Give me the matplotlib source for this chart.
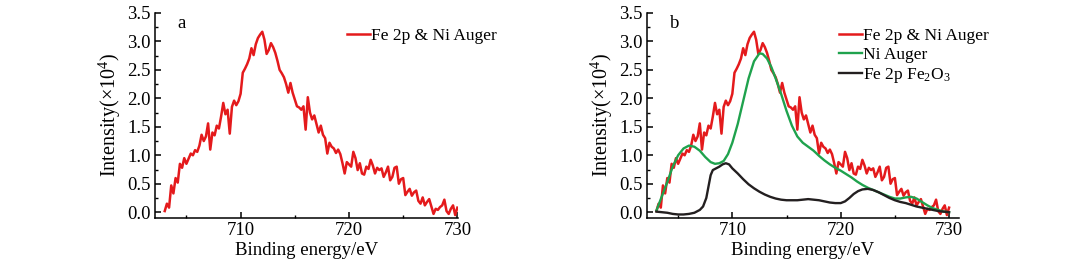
#! /usr/bin/env python3
#=======================================================================
# plot.py
#
# XPS spectra of the Fe 2p / Ni Auger region: (a) raw spectrum,
# (b) raw spectrum with the Ni Auger and Fe 2p (Fe2O3) components.
#=======================================================================
import numpy as np
import matplotlib
matplotlib.use('Agg')
import matplotlib.pyplot as plt

# Measured spectrum (x 10^4 counts), 0.2 eV steps from 703.0 to 730.0 eV.
raw_intensity = [
    0.02, 0.15, 0.08, 0.47, 0.33, 0.60, 0.52, 0.85, 0.78, 0.95,   # 703
    0.85, 0.94, 1.03, 1.00, 1.09, 1.06, 1.17, 1.36, 1.25, 1.33,   # 705
    1.56, 1.10, 1.40, 1.35, 1.52, 1.47, 1.68, 1.92, 1.72, 1.80,   # 707
    1.38, 1.85, 1.96, 1.88, 1.95, 2.08, 2.45, 2.52, 2.60, 2.70,   # 709
    2.88, 2.76, 2.95, 3.06, 3.12, 3.17, 3.03, 2.78, 2.85, 2.97,   # 711
    2.90, 2.80, 2.66, 2.50, 2.44, 2.37, 2.25, 2.10, 2.27, 2.10,   # 713
    1.98, 1.86, 1.84, 1.80, 1.86, 1.45, 2.02, 1.75, 1.63, 1.70,   # 715
    1.55, 1.40, 1.52, 1.36, 1.30, 1.03, 1.22, 1.15, 1.12, 1.04,   # 717
    1.10, 1.02, 0.86, 0.68, 0.88, 0.84, 0.80, 1.06, 0.95, 0.74,   # 719
    0.86, 0.68, 0.66, 0.80, 0.76, 0.92, 0.82, 0.68, 0.78, 0.74,   # 721
    0.77, 0.62, 0.70, 0.80, 0.56, 0.62, 0.78, 0.80, 0.50, 0.58,   # 723
    0.60, 0.30, 0.36, 0.41, 0.29, 0.35, 0.38, 0.20, 0.15, 0.26,   # 725
    0.12, 0.18, 0.23, 0.10, -0.03, 0.06, 0.04, 0.09, 0.12, 0.22,  # 727
    0.02, -0.03, 0.06, 0.12, -0.05, 0.08,                         # 729
]
raw_energy = np.linspace(703.0, 730.0, len(raw_intensity))

# Fitted Ni Auger component.
ni_energy = [703.0, 703.5, 704.0, 704.5, 705.0, 705.5, 706.0, 706.5, 707.0,
             707.5, 708.0, 708.4, 708.8, 709.2, 709.6, 710.0, 710.5, 711.0,
             711.5, 712.0, 712.5, 712.8, 713.2, 713.6, 714.0, 714.5, 715.0,
             715.5, 716.0, 716.5, 717.0, 717.5, 718.0, 718.5, 719.0, 719.5,
             720.0, 720.5, 721.0, 721.5, 722.0, 722.5, 723.0, 723.5, 724.0,
             724.5, 725.0, 725.5, 726.0, 726.5, 727.0, 727.5, 728.0, 728.5,
             729.0, 729.5, 730.0]
ni_intensity = [0.03, 0.28, 0.53, 0.80, 1.00, 1.12, 1.17, 1.15, 1.08,
                0.97, 0.88, 0.85, 0.86, 0.90, 1.02, 1.22, 1.55, 1.95,
                2.35, 2.65, 2.79, 2.78, 2.70, 2.55, 2.35, 2.08, 1.78,
                1.52, 1.33, 1.22, 1.15, 1.08, 0.99, 0.91, 0.84, 0.78,
                0.73, 0.67, 0.61, 0.54, 0.48, 0.43, 0.39, 0.35, 0.31,
                0.27, 0.24, 0.24, 0.26, 0.27, 0.24, 0.18, 0.12, 0.07,
                0.04, 0.01, 0.00]

# Fitted Fe 2p (Fe2O3) component.
fe_energy = [703.0, 703.5, 704.0, 704.5, 705.0, 705.5, 706.0, 706.5, 707.0,
             707.3, 707.6, 707.8, 708.0, 708.2, 708.5, 708.8, 709.1, 709.4,
             709.7, 710.0, 710.5, 711.0, 711.5, 712.0, 712.5, 713.0, 713.5,
             714.0, 714.5, 715.0, 715.5, 716.0, 716.5, 717.0, 717.5, 718.0,
             718.5, 719.0, 719.5, 720.0, 720.4, 720.8, 721.2, 721.6, 722.0,
             722.5, 723.0, 723.5, 724.0, 724.5, 725.0, 725.5, 726.0, 726.5,
             727.0, 727.5, 728.0, 728.5, 729.0, 729.5, 730.0]
fe_intensity = [0.01, 0.00, -0.01, -0.03, -0.04, -0.04, -0.03, -0.01, 0.04,
                0.10, 0.25, 0.45, 0.65, 0.74, 0.77, 0.80, 0.84, 0.86,
                0.84, 0.77, 0.68, 0.58, 0.49, 0.42, 0.36, 0.31, 0.27,
                0.24, 0.22, 0.21, 0.21, 0.21, 0.22, 0.23, 0.22, 0.21,
                0.19, 0.17, 0.16, 0.16, 0.19, 0.25, 0.32, 0.37, 0.40,
                0.41, 0.39, 0.35, 0.30, 0.25, 0.21, 0.18, 0.16, 0.13,
                0.10, 0.08, 0.06, 0.04, 0.02, 0.01, 0.00]

RED = '#e41a1c'
GREEN = '#1fa24d'
BLACK = '#231f20'

plt.rcParams['font.family'] = ['Liberation Serif', 'DejaVu Serif']
plt.rcParams['mathtext.fontset'] = 'custom'
plt.rcParams['mathtext.rm'] = 'Liberation Serif'
plt.rcParams['mathtext.it'] = 'Liberation Serif:italic'

#=======================================================================
def style_axes(ax, xmax, tag):
    """Inward ticks, left/bottom spines only, panel tag."""
    ax.set_xlim(702.1, xmax)
    ax.set_ylim(-0.1, 3.5)
    ax.set_xticks([710, 720, 730])
    ax.set_xticks([705, 715, 725], minor=True)
    ax.set_yticks(np.arange(0, 3.51, 0.5))
    ax.set_yticks(np.arange(0.25, 3.5, 0.5), minor=True)
    ax.yaxis.set_major_formatter(matplotlib.ticker.FormatStrFormatter('%.1f'))
    for side in ('top', 'right'):
        ax.spines[side].set_visible(False)
    for side in ('left', 'bottom'):
        ax.spines[side].set_linewidth(1.1)
    ax.tick_params(which='major', direction='in', length=4, width=1.1,
                   labelsize=13.5, pad=3)
    ax.tick_params(which='minor', direction='in', length=2.5, width=1.0)
    ax.set_xlabel('Binding energy/eV', fontsize=13.5, labelpad=2)
    ax.set_ylabel('Intensity($\\times$10$^{4}$)', fontsize=14.5, labelpad=3)
    ax.text(0.075, 0.95, tag, transform=ax.transAxes, fontsize=13.5,
            va='center', ha='left')

fig = plt.figure(figsize=(10.8, 2.7), dpi=100)
ax_a = fig.add_axes([0.1435, 0.193, 0.281, 0.759])
ax_b = fig.add_axes([0.5988, 0.193, 0.289, 0.759])

# Panel a: raw spectrum only.
ax_a.plot(raw_energy, raw_intensity, color=RED, lw=1.8,
          label='Fe 2p & Ni Auger')
style_axes(ax_a, 730.1, 'a')
ax_a.legend(loc='upper left', bbox_to_anchor=(0.633, 0.925), frameon=False,
            fontsize=12.5, handlelength=1.3, handletextpad=0.1,
            borderpad=0, borderaxespad=0)

# Panel b: raw spectrum with the two components.
ax_b.plot(raw_energy, raw_intensity, color=RED, lw=1.8,
          label='Fe 2p & Ni Auger')
ax_b.plot(ni_energy, ni_intensity, color=GREEN, lw=1.7, label='Ni Auger')
ax_b.plot(fe_energy, fe_intensity, color=BLACK, lw=1.7,
          label='Fe 2p Fe$_2$O$_3$')
style_axes(ax_b, 730.9, 'b')
ax_b.legend(loc='upper left', bbox_to_anchor=(0.616, 0.925), frameon=False,
            fontsize=12.5, handlelength=1.3, handletextpad=0.1,
            borderpad=0, borderaxespad=0, labelspacing=0.15)

fig.savefig('out.png', dpi=100)
